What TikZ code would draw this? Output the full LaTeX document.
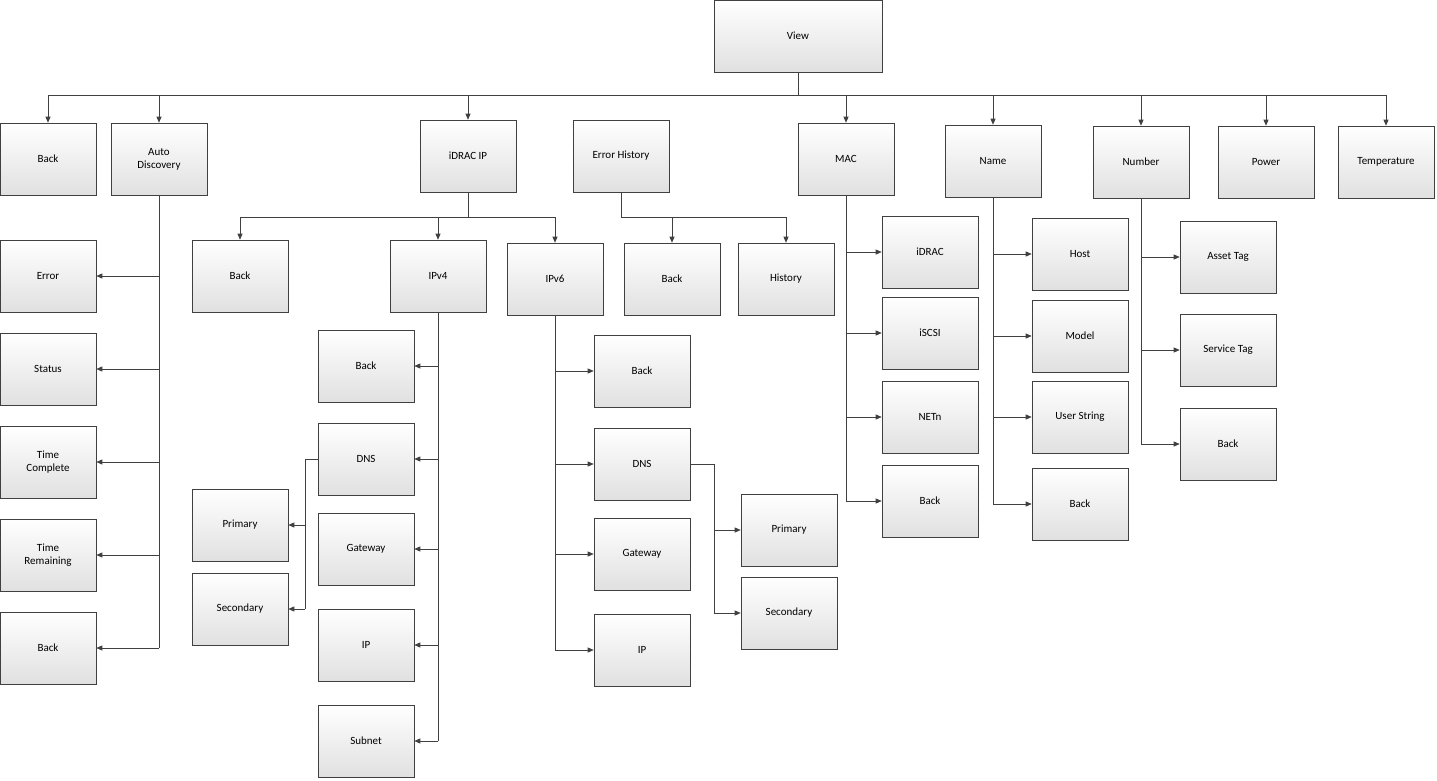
\documentclass[tikz,border=0pt]{standalone}
\usepackage{fontspec}
\setmainfont{Carlito}
\usetikzlibrary{arrows.meta,shadows}
\begin{document}
\begin{tikzpicture}[x=1pt,y=-1pt,
 bx/.style={draw=black!75,line width=0.6pt,top color=white,bottom color=black!12,minimum width=96pt,minimum height=72pt,align=center,font=\fontsize{11}{13}\selectfont,inner sep=1pt,drop shadow={shadow xshift=1pt,shadow yshift=-1pt,opacity=0.25}},
 ln/.style={draw=black!75,line width=0.7pt},
 ar/.style={ln,-{Triangle[length=6pt,width=5pt]}}]
\useasboundingbox (0,0) rectangle (1437,780);
\node[bx,minimum width=168pt] (view) at (798,36) {View};
\node[bx] (back) at (48,159) {Back};
\node[bx] (auto) at (159,159) {Auto\\Discovery};
\node[bx] (idrac) at (468,156) {iDRAC IP};
\node[bx] (err) at (621,156) {Error History};
\node[bx] (mac) at (846,159) {MAC};
\node[bx] (name) at (993,161) {Name};
\node[bx] (num) at (1141,162) {Number};
\node[bx] (pow) at (1266,162) {Power};
\node[bx] (temp) at (1386,162) {Temperature};
\coordinate (bus) at (798,95);
\draw[ln] (view.south) -- (bus);
\draw[ln] (48,95) -- (1386,95);
\foreach \n in {back,auto,idrac,mac,name,num,pow,temp}
  \draw[ar] (\n.north |- bus) -- (\n.north);
% auto discovery
\foreach \n/\y/\t in {ae/276/Error,as/369/Status,atc/462/{Time\\Complete},atr/555/{Time\\Remaining},ab/648/Back}
  \node[bx] (\n) at (48,\y) {\t};
\draw[ln] (auto.south) -- (159,648);
\foreach \n in {ae,as,atc,atr,ab} \draw[ar] (auto.south |- \n) -- (\n.east);
% idrac
\node[bx] (ib) at (240,276) {Back};
\node[bx] (ip4) at (438,276) {IPv4};
\node[bx] (ip6) at (555,279) {IPv6};
\coordinate (ibus) at (468,217);
\draw[ln] (idrac.south) -- (ibus);
\draw[ln] (240,217) -- (555,217);
\foreach \n in {ib,ip4,ip6} \draw[ar] (\n.north |- ibus) -- (\n.north);
\foreach \n/\y/\t in {fb/366/Back,fd/459/DNS,fg/549/Gateway,fi/645/IP,fs/741/Subnet}
  \node[bx] (\n) at (366,\y) {\t};
\draw[ln] (ip4.south) -- (438,741);
\foreach \n in {fb,fd,fg,fi,fs} \draw[ar] (ip4.south |- \n) -- (\n.east);
\node[bx] (fp) at (240,525) {Primary};
\node[bx] (fsec) at (240,609) {Secondary};
\draw[ln] (fd.west) -- (305,459) -- (305,609);
\foreach \n in {fp,fsec} \draw[ar] (305,0 |- \n) -- (\n.east);
\foreach \n/\y/\t in {sb/371/Back,sd/464/DNS,sg/554/Gateway,si/650/IP}
  \node[bx] (\n) at (642,\y) {\t};
\draw[ln] (ip6.south) -- (555,650);
\foreach \n in {sb,sd,sg,si} \draw[ar] (ip6.south |- \n) -- (\n.west);
\node[bx] (sp) at (789,530) {Primary};
\node[bx] (ssec) at (789,613) {Secondary};
\draw[ln] (sd.east) -- (714,464) -- (714,613);
\foreach \n in {sp,ssec} \draw[ar] (714,0 |- \n) -- (\n.west);
% error history
\node[bx] (eb) at (672,279) {Back};
\node[bx] (eh) at (786,279) {History};
\coordinate (ebus) at (621,217);
\draw[ln] (err.south) -- (ebus);
\draw[ln] (672,217) -- (786,217);
\draw[ln] (621,217) -- (672,217);
\foreach \n in {eb,eh} \draw[ar] (\n.north |- ebus) -- (\n.north);
% mac
\foreach \n/\y/\t in {m1/252/iDRAC,m2/333/iSCSI,m3/417/NETn,m4/501/Back}
  \node[bx] (\n) at (930,\y) {\t};
\draw[ln] (mac.south) -- (846,501);
\foreach \n in {m1,m2,m3,m4} \draw[ar] (mac.south |- \n) -- (\n.west);
% name
\foreach \n/\y/\t in {n1/254/Host,n2/336/Model,n3/417/User String,n4/504/Back}
  \node[bx] (\n) at (1080,\y) {\t};
\draw[ln] (name.south) -- (993,504);
\foreach \n in {n1,n2,n3,n4} \draw[ar] (name.south |- \n) -- (\n.west);
% number
\foreach \n/\y/\t in {u1/257/Asset Tag,u2/350/Service Tag,u3/444/Back}
  \node[bx] (\n) at (1228,\y) {\t};
\draw[ln] (num.south) -- (1141,444);
\foreach \n in {u1,u2,u3} \draw[ar] (num.south |- \n) -- (\n.west);
\end{tikzpicture}
\end{document}
